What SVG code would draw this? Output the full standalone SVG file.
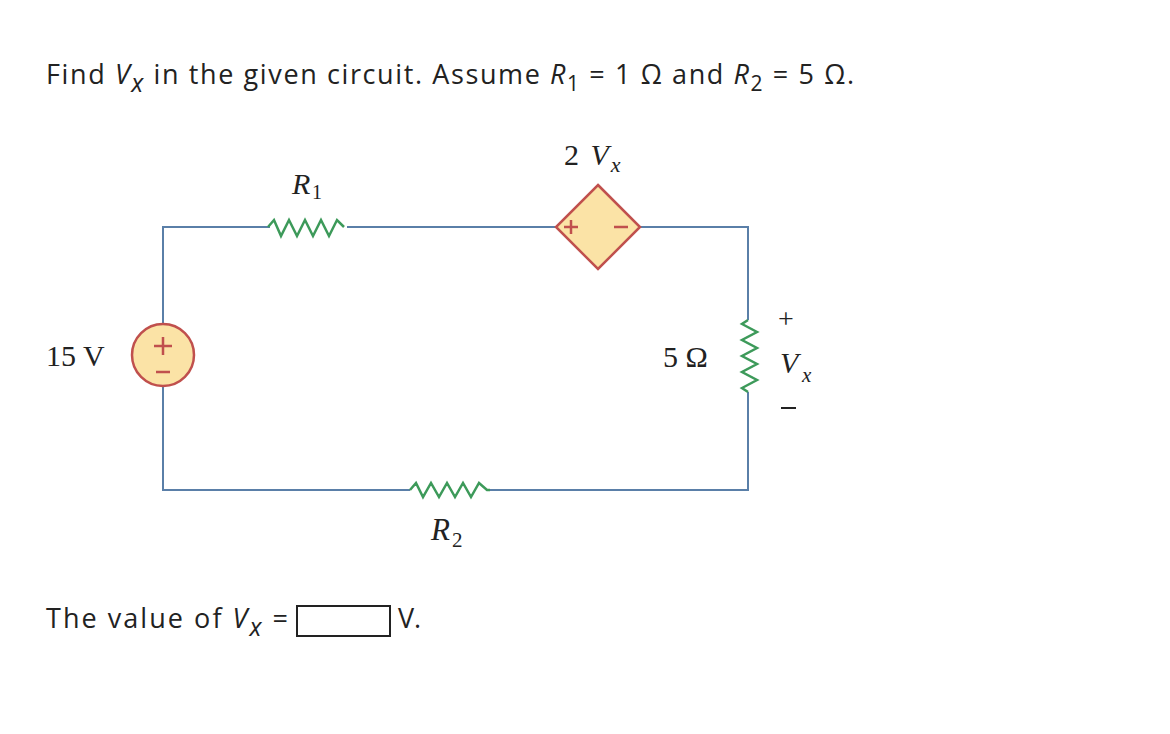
<svg xmlns="http://www.w3.org/2000/svg" width="1170" height="734" viewBox="0 0 1170 734">
<style>
.t{font-family:"Open Sans","Liberation Sans",Arial,sans-serif;font-size:27px;fill:#222}
.s{font-family:"Liberation Serif","Times New Roman",serif;fill:#222}
.w{fill:none;stroke:#5a7fa8;stroke-width:2}
.r{fill:none;stroke:#3d9a5a;stroke-width:2.5;stroke-linejoin:miter}
.src{fill:#fbe3a6;stroke:#c0504d;stroke-width:2.5}
.sg{stroke:#c0504d;stroke-width:2.5}
</style>
<rect width="1170" height="734" fill="#fff"/>
<text class="t" x="46" y="84" textLength="808" lengthAdjust="spacing">Find <tspan font-style="italic">V</tspan><tspan font-style="italic" font-size="25" dy="8">x</tspan><tspan dy="-8"> in the given circuit. Assume </tspan><tspan font-style="italic">R</tspan><tspan font-size="21" dy="7">1</tspan><tspan dy="-7"> = 1 Ω and </tspan><tspan font-style="italic">R</tspan><tspan font-size="21" dy="7">2</tspan><tspan dy="-7"> = 5 Ω.</tspan></text>
<g id="wires">
<path class="w" d="M270 227H163V324M163 386V490H410M490 490H748V392M748 320V227H640M556 227H347"/>
</g>
<g id="R1">
<path class="r" d="M268 227 L274 220 L281 236 L289 220 L297 236 L305 220 L313 236 L321 220 L329 236 L337 220 L344 227"/>
<text class="s" x="292" y="194" font-size="30" font-style="italic">R</text><text class="s" x="312" y="199" font-size="20">1</text>
</g>
<g id="dep">
<path class="src" d="M598 185 L640 227 L598 269 L556 227 Z"/>
<path class="sg" d="M564 227h14M571 220v14M614 227h14"/>
<text class="s" x="564" y="165" font-size="30" letter-spacing="2">2 <tspan font-style="italic">V</tspan><tspan font-style="italic" font-size="22" dy="7">x</tspan></text>
</g>
<g id="V15">
<circle class="src" cx="163" cy="355" r="31"/>
<path class="sg" d="M154 346h18M163 337v18M156 372h14"/>
<text class="s" x="46" y="366" font-size="30">15 V</text>
</g>
<g id="R5">
<path class="r" d="M748 320 L742 324 L757 332 L742 340 L757 348 L742 356 L757 364 L742 372 L757 380 L742 388 L748 392"/>
<text class="s" x="663" y="367" font-size="30">5 Ω</text>
<text class="s" x="778" y="328" font-size="28">+</text>
<text class="s" x="780" y="373" font-size="30" font-style="italic">V</text><text class="s" x="802" y="382" font-size="21" font-style="italic">x</text>
<path d="M781 408h15" stroke="#222" stroke-width="2"/>
</g>
<g id="R2">
<path class="r" d="M410 490 L416 483 L423 497 L431 483 L439 497 L447 483 L455 497 L463 483 L471 497 L479 483 L487 490 L490 490"/>
<text class="s" x="431" y="540" font-size="31" font-style="italic">R</text><text class="s" x="452" y="547" font-size="21">2</text>
</g>
<text class="t" x="46" y="628" textLength="242" lengthAdjust="spacing">The value of <tspan font-style="italic">V</tspan><tspan font-style="italic" font-size="25" dy="8">x</tspan><tspan dy="-8"> =</tspan></text>
<rect x="297" y="606" width="93" height="30" fill="#fff" stroke="#222" stroke-width="2"/>
<text class="t" x="398" y="628">V.</text>
</svg>
